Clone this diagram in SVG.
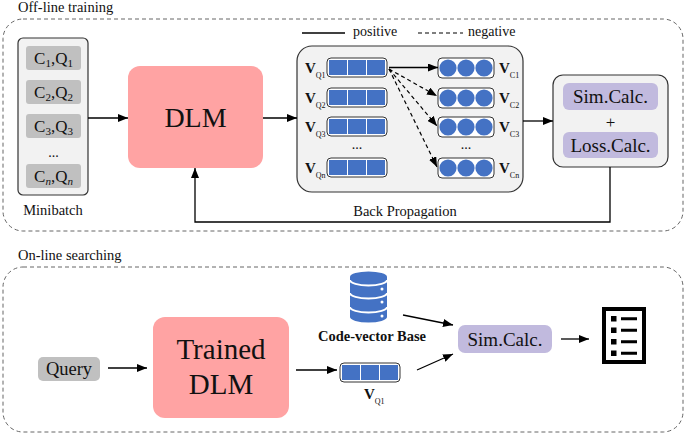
<svg xmlns="http://www.w3.org/2000/svg" width="685" height="434" viewBox="0 0 685 434" font-family="'Liberation Serif', 'Times New Roman', Times, serif">
<defs>
<style>
text, tspan{font-family:"Liberation Serif","Times New Roman",Times,serif;fill:#111}
.frame{fill:none;stroke:#666;stroke-width:1;stroke-dasharray:4 3}
.panel{fill:#f2f2f2;stroke:#333;stroke-width:1.2}
.gray{fill:#c0c0c0}
.dlm{fill:#ffa3a3}
.purple{fill:#c1bade}
.vec{fill:#fff;stroke:#333;stroke-width:1}
.blue{fill:#4472c4}
.line{fill:none;stroke:#000;stroke-width:1.3}
.dash{fill:none;stroke:#000;stroke-width:1.2;stroke-dasharray:4 3}
.vb{font-weight:bold;font-size:15px}
.sub{font-size:8px;font-weight:normal}
</style>
<marker id="ah" markerUnits="userSpaceOnUse" markerWidth="10" markerHeight="8" refX="10" refY="4" orient="auto">
<path d="M0,0 L10,4 L0,8 z" fill="#000"/>
</marker>
<g id="vq">
<rect class="vec" x="0" y="0" width="60" height="19" rx="4"/>
<rect class="blue" x="2" y="2" width="18" height="15"/>
<rect class="blue" x="21" y="2" width="18" height="15"/>
<rect class="blue" x="40" y="2" width="18" height="15"/>
</g>
<g id="vc">
<rect class="vec" x="0" y="0" width="56" height="20" rx="4"/>
<circle class="blue" cx="10" cy="10" r="8.6"/>
<circle class="blue" cx="28" cy="10" r="8.6"/>
<circle class="blue" cx="46" cy="10" r="8.6"/>
</g>
</defs>

<g id="offline-frame">
<rect class="frame" x="3" y="19" width="680" height="212" rx="20"/>
<text x="18" y="12" font-size="14.5">Off-line training</text>
</g>

<g id="minibatch">
<rect class="panel" x="18" y="38" width="70" height="157" rx="5"/>
<rect class="gray" x="26" y="46" width="55" height="24" rx="3"/>
<rect class="gray" x="26" y="80" width="55" height="24" rx="3"/>
<rect class="gray" x="26" y="114" width="55" height="24" rx="3"/>
<rect class="gray" x="26" y="164" width="55" height="24" rx="3"/>
<text x="53.5" y="64" font-size="17" text-anchor="middle">C<tspan font-size="11" dy="3">1</tspan><tspan dy="-3">,Q</tspan><tspan font-size="11" dy="3">1</tspan></text>
<text x="53.5" y="98" font-size="17" text-anchor="middle">C<tspan font-size="11" dy="3">2</tspan><tspan dy="-3">,Q</tspan><tspan font-size="11" dy="3">2</tspan></text>
<text x="53.5" y="132" font-size="17" text-anchor="middle">C<tspan font-size="11" dy="3">3</tspan><tspan dy="-3">,Q</tspan><tspan font-size="11" dy="3">3</tspan></text>
<text x="53.5" y="157" font-size="14" text-anchor="middle">...</text>
<text x="53.5" y="182" font-size="17" text-anchor="middle">C<tspan font-size="11" dy="3" font-style="italic">n</tspan><tspan dy="-3">,Q</tspan><tspan font-size="11" dy="3" font-style="italic">n</tspan></text>
<text x="53" y="215" font-size="14.5" text-anchor="middle">Minibatch</text>
</g>

<g id="dlm">
<rect class="dlm" x="128" y="66" width="135" height="102" rx="12"/>
<text x="195.5" y="127" font-size="28" text-anchor="middle">DLM</text>
</g>

<g id="legend">
<line class="line" x1="302" y1="33" x2="345" y2="33"/>
<text x="353" y="36" font-size="14">positive</text>
<line class="dash" x1="418" y1="33" x2="463" y2="33"/>
<text x="468" y="36" font-size="14">negative</text>
</g>

<g id="vectors">
<rect class="panel" x="297" y="46" width="226" height="146" rx="15"/>
<use href="#vq" x="327" y="58"/>
<use href="#vq" x="327" y="88"/>
<use href="#vq" x="327" y="117"/>
<use href="#vq" x="327" y="158"/>
<text x="357" y="149" font-size="14" text-anchor="middle">...</text>
<use href="#vc" x="438" y="58"/>
<use href="#vc" x="438" y="88"/>
<use href="#vc" x="438" y="117"/>
<use href="#vc" x="438" y="158"/>
<text x="466" y="149" font-size="14" text-anchor="middle">...</text>
<text x="305" y="73" class="vb">V<tspan class="sub" dy="5">Q1</tspan></text>
<text x="305" y="103" class="vb">V<tspan class="sub" dy="5">Q2</tspan></text>
<text x="305" y="132" class="vb">V<tspan class="sub" dy="5">Q3</tspan></text>
<text x="305" y="173" class="vb">V<tspan class="sub" dy="5">Qn</tspan></text>
<text x="499" y="73" class="vb">V<tspan class="sub" dy="5">C1</tspan></text>
<text x="499" y="103" class="vb">V<tspan class="sub" dy="5">C2</tspan></text>
<text x="499" y="132" class="vb">V<tspan class="sub" dy="5">C3</tspan></text>
<text x="499" y="173" class="vb">V<tspan class="sub" dy="5">Cn</tspan></text>
</g>

<g id="simloss">
<rect class="panel" x="553" y="75" width="115" height="92" rx="10"/>
<rect class="purple" x="563" y="83" width="95" height="27" rx="6"/>
<text x="610.5" y="103" font-size="19" text-anchor="middle">Sim.Calc.</text>
<text x="610.5" y="128" font-size="17" text-anchor="middle">+</text>
<rect class="purple" x="563" y="132" width="95" height="26" rx="6"/>
<text x="610.5" y="152" font-size="19" text-anchor="middle">Loss.Calc.</text>
</g>

<g id="online-frame">
<rect class="frame" x="3" y="267" width="680" height="165" rx="20"/>
<text x="18" y="260" font-size="14.5">On-line searching</text>
</g>

<g id="query">
<rect class="gray" x="38" y="357" width="62" height="24" rx="5"/>
<text x="69" y="375" font-size="18.5" text-anchor="middle">Query</text>
</g>

<g id="trained-dlm">
<rect class="dlm" x="153" y="317" width="136" height="101" rx="12"/>
<text x="221" y="359" font-size="29" text-anchor="middle">Trained</text>
<text x="221" y="394" font-size="29" text-anchor="middle">DLM</text>
</g>

<g id="vq1-online">
<use href="#vq" x="340" y="363"/>
<text x="364" y="399" class="vb">V<tspan class="sub" dy="5">Q1</tspan></text>
</g>

<g id="code-base">
<path class="blue" d="M350,277 a18.5,5.5 0 0 1 37,0 v40 a18.5,5.5 0 0 1 -37,0 z"/>
<path d="M350,280 a18.5,5.5 0 0 0 37,0 M350,293 a18.5,5.5 0 0 0 37,0 M350,307 a18.5,5.5 0 0 0 37,0" fill="none" stroke="#fff" stroke-width="2"/>
<circle cx="382" cy="289" r="1.5" fill="#fff"/>
<circle cx="382" cy="302" r="1.5" fill="#fff"/>
<circle cx="382" cy="316" r="1.5" fill="#fff"/>
<text x="372" y="341" font-size="14.5" font-weight="bold" text-anchor="middle">Code-vector Base</text>
</g>

<g id="sim-online">
<rect class="purple" x="458" y="325" width="94" height="28" rx="7"/>
<text x="505" y="346" font-size="19" text-anchor="middle">Sim.Calc.</text>
</g>

<g id="result-list">
<rect x="604" y="309" width="40" height="53" fill="#fff" stroke="#000" stroke-width="4"/>
<rect x="611" y="316" width="5.5" height="5.5" fill="#000"/>
<rect x="611" y="327.5" width="5.5" height="5.5" fill="#000"/>
<rect x="611" y="339" width="5.5" height="5.5" fill="#000"/>
<rect x="611" y="350.5" width="5.5" height="5.5" fill="#000"/>
<path d="M621,318.75 H637 M621,330.25 H637 M621,341.75 H637 M621,353.25 H637" stroke="#000" stroke-width="3"/>
</g>

<g id="connectors">
<line class="line" x1="88" y1="118" x2="128" y2="118" marker-end="url(#ah)"/>
<line class="line" x1="263" y1="118" x2="297" y2="118" marker-end="url(#ah)"/>
<line class="line" x1="389" y1="67.5" x2="438" y2="67.5" marker-end="url(#ah)"/>
<line class="dash" x1="389" y1="69" x2="437" y2="96" marker-end="url(#ah)"/>
<line class="dash" x1="389" y1="69" x2="437" y2="126" marker-end="url(#ah)"/>
<line class="dash" x1="389" y1="69" x2="437" y2="167" marker-end="url(#ah)"/>
<line class="line" x1="523" y1="121" x2="553" y2="121" marker-end="url(#ah)"/>
<polyline class="line" points="610,167 610,222 195,222 195,168" marker-end="url(#ah)"/>
<text x="405" y="216" font-size="14.5" text-anchor="middle">Back Propagation</text>
<line class="line" x1="108" y1="368" x2="147" y2="368" marker-end="url(#ah)"/>
<line class="line" x1="296" y1="370" x2="337" y2="370" marker-end="url(#ah)"/>
<line class="line" x1="403" y1="315" x2="453" y2="325" marker-end="url(#ah)"/>
<line class="line" x1="417" y1="370" x2="453" y2="354" marker-end="url(#ah)"/>
<line class="line" x1="561" y1="339" x2="589" y2="339" marker-end="url(#ah)"/>
</g>
</svg>
